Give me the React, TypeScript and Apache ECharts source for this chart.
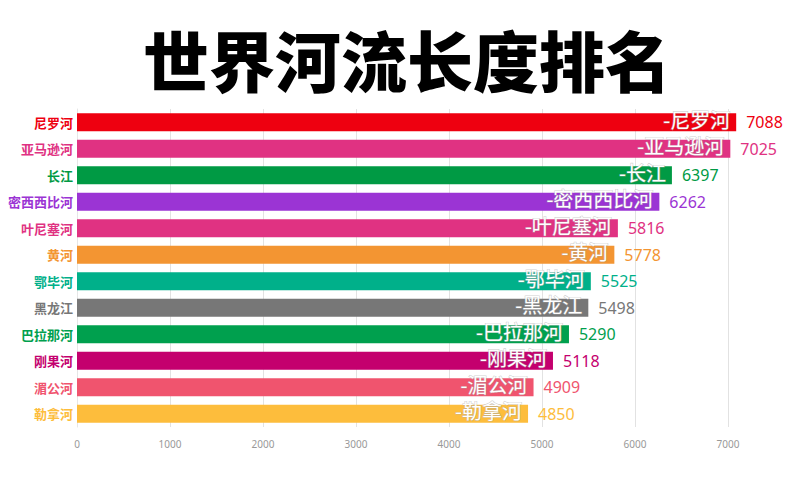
import React, { useEffect, useRef } from "react";
import * as echarts from "echarts";

const rivers = ["尼罗河", "亚马逊河", "长江", "密西西比河", "叶尼塞河", "黄河", "鄂毕河", "黑龙江", "巴拉那河", "刚果河", "湄公河", "勒拿河"];
const lengths = [7088, 7025, 6397, 6262, 5816, 5778, 5525, 5498, 5290, 5118, 4909, 4850];
const colors = ["#ee0010", "#e03282", "#009a44", "#9b34d4", "#e03282", "#f39532", "#00b08a", "#777777", "#00a04e", "#c4006e", "#f0546e", "#fdbd3c"];
const titleText = "世界河流长度排名";

export default function App() {
  const ref = useRef<HTMLDivElement>(null);
  useEffect(() => {
    if (!ref.current) return;
    const chart = echarts.init(ref.current, null, { renderer: "svg" });
    chart.setOption({
      animation: false,
      backgroundColor: "#ffffff",
      title: {
        text: titleText,
        left: 402,
        textAlign: "center",
        top: 20,
        textStyle: {
          fontFamily: "Noto Sans CJK SC",
          fontWeight: 900,
          fontSize: 66,
          color: "#000000",
        },
      },
      grid: { left: 77, right: 72, top: 109, bottom: 73, containLabel: false },
      xAxis: {
        type: "value",
        min: 0,
        max: 7000,
        interval: 1000,
        axisLine: { show: false },
        axisTick: { show: false },
        splitLine: { lineStyle: { color: "#e2e2e2", width: 1 } },
        axisLabel: {
          color: "#999999",
          fontSize: 10,
          fontFamily: "Noto Sans",
          margin: 12,
          formatter: (v: number) => String(v),
        },
      },
      yAxis: {
        type: "category",
        inverse: true,
        data: rivers,
        axisLine: { show: true, lineStyle: { color: "#e6e6e6" } },
        axisTick: { show: false },
        axisLabel: {
          margin: 4,
          fontSize: 13,
          fontWeight: "bold",
          fontFamily: "Noto Sans CJK SC",
          color: (_v: string, i: number) => colors[i],
        },
      },
      series: [
        {
          type: "bar",
          barWidth: 18,
          clip: false,
          data: lengths.map((v, i) => ({
            value: v,
            itemStyle: { color: colors[i] },
            label: { color: colors[i] },
          })),
          label: {
            show: true,
            position: "right",
            distance: 10,
            fontSize: 16,
            fontFamily: "Noto Sans",
            formatter: (p: any) => String(p.value),
          },
        },
        {
          type: "bar",
          barWidth: 18,
          barGap: "-100%",
          clip: false,
          silent: true,
          itemStyle: { color: "transparent" },
          data: lengths.map((v, i) => ({ value: v, name: rivers[i] })),
          label: {
            show: true,
            position: "insideRight",
            distance: 6,
            offset: [0, -3],
            fontSize: 20,
            fontFamily: "Noto Sans CJK SC",
            color: "#ffffff",
            textBorderColor: "rgba(170,170,170,0.55)",
            textBorderWidth: 1.2,
            formatter: (p: any) => "-" + rivers[p.dataIndex],
          },
        },
      ],
    });
    return () => chart.dispose();
  }, []);
  return <div ref={ref} style={{ width: 800, height: 500, margin: -8 }} />;
}
